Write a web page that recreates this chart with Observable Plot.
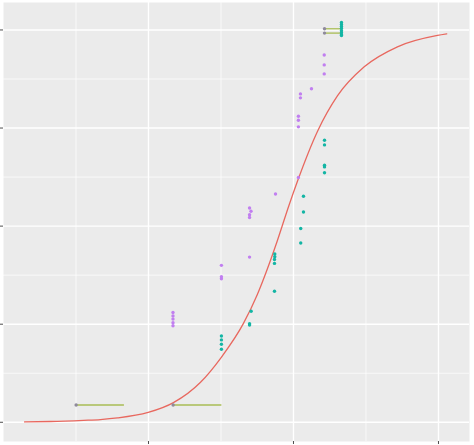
<!DOCTYPE html>
<html>
<head>
<meta charset="utf-8">
<script src="https://cdn.jsdelivr.net/npm/d3@7"></script>
<script src="https://cdn.jsdelivr.net/npm/@observablehq/plot@0.6"></script>
<style>
  html, body { margin: 0; padding: 0; background: #ffffff; }
  #chart svg { display: block; }
</style>
</head>
<body>
<div id="chart"></div>
<script>
// Fitted curve
const curveX = [0.145, 0.324, 0.552, 0.669, 0.786, 0.998, 1.172, 1.359, 1.501, 1.655, 1.750, 1.819, 1.888, 1.968, 2.028, 2.166, 2.303, 2.488, 2.717, 2.993, 3.057];
const curveY = [0.001, 0.002, 0.005, 0.007, 0.011, 0.025, 0.050, 0.102, 0.165, 0.252, 0.325, 0.390, 0.462, 0.552, 0.615, 0.742, 0.832, 0.906, 0.957, 0.986, 0.990];

// Purple observations
const purpleX = [1.169, 1.169, 1.169, 1.169, 1.169, 1.503, 1.503, 1.503, 1.697, 1.707, 1.697, 1.697, 1.697, 1.876, 2.034, 2.034, 2.034, 2.034, 2.048, 2.048, 2.124, 2.212, 2.212, 2.212];
const purpleY = [0.280, 0.271, 0.263, 0.254, 0.246, 0.400, 0.371, 0.366, 0.546, 0.538, 0.529, 0.522, 0.421, 0.582, 0.780, 0.770, 0.753, 0.624, 0.837, 0.827, 0.850, 0.936, 0.911, 0.888];

// Teal observations
const tealX = [1.503, 1.503, 1.503, 1.503, 1.708, 1.697, 1.697, 1.871, 1.871, 1.869, 1.869, 1.869, 2.050, 2.050, 2.069, 2.069, 2.214, 2.214, 2.214, 2.214, 2.214, 2.331, 2.331, 2.331, 2.331, 2.331, 2.331, 2.331, 2.331];
const tealY = [0.220, 0.210, 0.199, 0.186, 0.283, 0.251, 0.248, 0.429, 0.422, 0.415, 0.405, 0.334, 0.494, 0.457, 0.576, 0.536, 0.719, 0.707, 0.655, 0.651, 0.636, 1.019, 1.014, 1.009, 1.004, 0.998, 0.993, 0.988, 0.986];

// Interval segments (left grey end, right teal end)
const segX1 = [0.501, 1.170, 2.214, 2.214];
const segX2 = [0.834, 1.506, 2.331, 2.331];
const segY  = [0.044, 0.044, 1.003, 0.992];

const xMajor = [1, 2, 3];
const xMinor = [0.5, 1.5, 2.5];
const yMajor = [0, 0.25, 0.5, 0.75, 1];
const yMinor = [0.125, 0.375, 0.625, 0.875];

const curve = curveX.map((x, i) => ({x, y: curveY[i]}));
const purple = purpleX.map((x, i) => ({x, y: purpleY[i]}));
const teal = tealX.map((x, i) => ({x, y: tealY[i]}));
const segs = segX1.map((x1, i) => ({x1, x2: segX2[i], y: segY[i]}));

const chart = Plot.plot({
  width: 474,
  height: 445,
  marginLeft: 3,
  marginRight: 5,
  marginTop: 2,
  marginBottom: 4,
  style: {background: "#ffffff"},
  x: {domain: [0, 3.214]},
  y: {domain: [-0.049, 1.07]},
  marks: [
    Plot.frame({fill: "#ebebeb", stroke: "none"}),
    Plot.gridX(xMinor, {stroke: "#ffffff", strokeOpacity: 1, strokeWidth: 0.7}),
    Plot.gridY(yMinor, {stroke: "#ffffff", strokeOpacity: 1, strokeWidth: 0.7}),
    Plot.gridX(xMajor, {stroke: "#ffffff", strokeOpacity: 1, strokeWidth: 1.4}),
    Plot.gridY(yMajor, {stroke: "#ffffff", strokeOpacity: 1, strokeWidth: 1.4}),
    Plot.axisX(xMajor, {tickSize: 3, tickFormat: () => "", stroke: "#4d4d4d", label: null}),
    Plot.axisY(yMajor, {tickSize: 3, tickFormat: () => "", stroke: "#4d4d4d", label: null}),
    Plot.line(curve, {x: "x", y: "y", stroke: "#e8685f", strokeWidth: 1.3, curve: "monotone-x"}),
    Plot.ruleY(segs, {x1: "x1", x2: "x2", y: "y", stroke: "#a8bc55", strokeWidth: 1.3}),
    Plot.dot(segs, {x: "x1", y: "y", r: 1.7, fill: "#8f8a9c", stroke: "none"}),
    Plot.dot(purple, {x: "x", y: "y", r: 1.7, fill: "#c17ff0", stroke: "none"}),
    Plot.dot(teal, {x: "x", y: "y", r: 1.7, fill: "#13b5a4", stroke: "none"})
  ]
});
document.getElementById("chart").appendChild(chart);
</script>
</body>
</html>
